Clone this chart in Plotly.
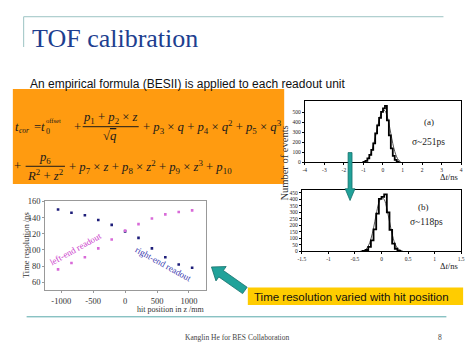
import plotly.graph_objects as go

# ---------------- data ----------------
hit_pos = [-1050, -840, -630, -420, -210, 0, 210, 420, 630, 840, 1050]
right_end_res = [150, 146, 143, 137, 131, 123, 115, 102, 91, 82, 78]
left_end_res = [76, 84, 91, 102, 113, 124, 132, 139, 144, 147, 149]
scatter_xticks = [-1000, -500, 0, 500, 1000]
scatter_yticks = [60, 80, 100, 120, 140, 160]

hist_a_centers = [-1.05, -0.95, -0.85, -0.75, -0.65, -0.55, -0.45, -0.35, -0.25, -0.15,
                  -0.05, 0.05, 0.15, 0.25, 0.35, 0.45, 0.55, 0.65, 0.75, 0.85]
hist_a_counts = [2, 5, 15, 40, 75, 125, 190, 290, 370, 445,
                 505, 540, 565, 420, 270, 140, 65, 25, 8, 2]
fit_a_x = [-1.0, -0.9, -0.8, -0.7, -0.6, -0.5, -0.4, -0.3, -0.2, -0.1,
           0.0, 0.1, 0.2, 0.3, 0.4, 0.5, 0.6, 0.7, 0.8, 0.9]
fit_a_y = [3, 10, 25, 55, 100, 165, 245, 335, 420, 485,
           520, 515, 470, 390, 290, 190, 110, 55, 22, 8]
hist_a_xticks = [-4, -3, -2, -1, 0, 1, 2, 3, 4]
hist_a_yticks = [0, 100, 200, 300, 400, 500]

hist_b_centers = [-0.375, -0.325, -0.275, -0.225, -0.175, -0.125, -0.075, -0.025,
                  0.025, 0.075, 0.125, 0.175, 0.225, 0.275, 0.325, 0.375]
hist_b_counts = [1, 3, 10, 35, 85, 170, 290, 405, 420, 440, 300, 165, 60, 20, 5, 1]
fit_b_x = [-0.4, -0.35, -0.3, -0.25, -0.2, -0.15, -0.1, -0.05, 0.0,
           0.05, 0.1, 0.15, 0.2, 0.25, 0.3, 0.35, 0.4]
fit_b_y = [1, 4, 14, 40, 95, 180, 285, 375, 415, 400, 330, 230, 135, 62, 24, 7, 2]
hist_b_xticks = [-1.5, -1, -0.5, 0, 0.5, 1, 1.5]
hist_b_yticks = [0, 50, 100, 150, 200, 250, 300, 350, 400, 450]

W, H = 474, 355


def px(x):
    return x / W


def py(y):
    return 1 - y / H


SERIF = "Liberation Serif, Times New Roman, serif"
SANS = "Liberation Sans, Arial, sans-serif"

fig = go.Figure()

# scatter: time resolution vs hit position
fig.add_trace(go.Scatter(x=hit_pos, y=right_end_res, mode="markers",
                         marker=dict(symbol="square", size=2.6, color="#1e1e7a"),
                         xaxis="x", yaxis="y", showlegend=False))
fig.add_trace(go.Scatter(x=hit_pos, y=left_end_res, mode="markers",
                         marker=dict(symbol="square", size=2.6, color="#d86ad8"),
                         xaxis="x", yaxis="y", showlegend=False))

# histogram (a)
fig.add_trace(go.Scatter(x=fit_a_x, y=fit_a_y, mode="lines", line=dict(color="#555", width=1, shape="spline"),
                         xaxis="x2", yaxis="y2", showlegend=False))
fig.add_trace(go.Scatter(x=hist_a_centers, y=hist_a_counts, mode="lines",
                         line=dict(color="black", width=1.8, shape="hvh"),
                         xaxis="x2", yaxis="y2", showlegend=False))
# histogram (b)
fig.add_trace(go.Scatter(x=fit_b_x, y=fit_b_y, mode="lines", line=dict(color="#555", width=1, shape="spline"),
                         xaxis="x3", yaxis="y3", showlegend=False))
fig.add_trace(go.Scatter(x=hist_b_centers, y=hist_b_counts, mode="lines",
                         line=dict(color="black", width=1.8, shape="hvh"),
                         xaxis="x3", yaxis="y3", showlegend=False))

grey_axis = dict(showline=True, linecolor="#999", linewidth=1, mirror=True, showgrid=False,
                 zeroline=False, ticks="outside", ticklen=2, tickcolor="#999",
                 tickfont=dict(family=SERIF, size=8.5, color="#333"))
black_axis = dict(showline=True, linecolor="black", linewidth=1, mirror=True, showgrid=False,
                  zeroline=False, ticks="outside", ticklen=2, tickcolor="black",
                  tickfont=dict(family=SERIF, size=5.5, color="#222"))

fig.update_layout(
    width=W, height=H, margin=dict(l=0, r=0, t=0, b=0),
    paper_bgcolor="white", plot_bgcolor="white",
    xaxis=dict(domain=[px(42), px(205)], anchor="y", range=[-1250, 1260],
               tickvals=scatter_xticks, ticktext=[str(v) for v in scatter_xticks], **grey_axis),
    yaxis=dict(domain=[py(292), py(201)], anchor="x", range=[50, 160],
               tickvals=scatter_yticks, ticktext=[str(v) for v in scatter_yticks], **grey_axis),
    xaxis2=dict(domain=[px(306), px(465)], anchor="y2", range=[-4, 4],
                tickvals=hist_a_xticks, ticktext=[str(v) for v in hist_a_xticks], **black_axis),
    yaxis2=dict(domain=[py(161), py(98)], anchor="x2", range=[0, 615],
                tickvals=hist_a_yticks, ticktext=[str(v) for v in hist_a_yticks], **black_axis),
    xaxis3=dict(domain=[px(303), px(465)], anchor="y3", range=[-1.5, 1.5],
                tickvals=hist_b_xticks, ticktext=[str(v) for v in hist_b_xticks], **black_axis),
    yaxis3=dict(domain=[py(252), py(189)], anchor="x3", range=[0, 475],
                tickvals=hist_b_yticks, ticktext=[str(v) for v in hist_b_yticks], **black_axis),
)

shapes = []
# top decorative rules
shapes.append(dict(type="line", xref="paper", yref="paper", x0=px(20), x1=px(447), y0=py(12), y1=py(12),
                   line=dict(color="#9cc3c3", width=1)))
shapes.append(dict(type="line", xref="paper", yref="paper", x0=px(20), x1=px(20), y0=py(12), y1=py(43),
                   line=dict(color="#9cc3c3", width=1)))
# bottom rule
shapes.append(dict(type="line", xref="paper", yref="paper", x0=px(23), x1=px(450), y0=py(319), y1=py(319),
                   line=dict(color="#58a9aa", width=1)))
# orange formula box
shapes.append(dict(type="rect", xref="paper", yref="paper", x0=px(9), x1=px(285), y0=py(183), y1=py(86),
                   fillcolor="#ff9b10", line=dict(width=0), layer="below"))
# yellow box
shapes.append(dict(type="rect", xref="paper", yref="paper", x0=px(248), x1=px(467), y0=py(307), y1=py(289),
                   fillcolor="#ffcc00", line=dict(width=0), layer="below"))
# fraction bars
for (xa, xb, yy) in [(80, 137, 124.5), (22, 62, 165)]:
    shapes.append(dict(type="line", xref="paper", yref="paper", x0=px(xa), x1=px(xb), y0=py(yy), y1=py(yy),
                       line=dict(color="#1a1a1a", width=1)))


def poly(points):
    d = "M " + " L ".join(f"{px(x):.5f},{py(y):.5f}" for x, y in points) + " Z"
    return d


TEAL = "#21a29a"
TEAL_EDGE = "#17706b"
# vertical arrow between histograms
shapes.append(dict(type="path", xref="paper", yref="paper",
                   path=poly([(350, 151), (354, 151), (354, 188), (357, 188), (352, 200), (347, 188), (350, 188)]),
                   fillcolor=TEAL, line=dict(color=TEAL_EDGE, width=0.8)))
# diagonal arrow toward scatter
tail = (245.0, 292.0)
tip = (211.0, 268.0)
dx, dy = tip[0] - tail[0], tip[1] - tail[1]
L = (dx * dx + dy * dy) ** 0.5
ux, uy = dx / L, dy / L
nx, ny = -uy, ux
base = (tip[0] - 12 * ux, tip[1] - 12 * uy)
pts = [(tail[0] + 4 * nx, tail[1] + 4 * ny), (base[0] + 4 * nx, base[1] + 4 * ny),
       (base[0] + 9 * nx, base[1] + 9 * ny), tip,
       (base[0] - 9 * nx, base[1] - 9 * ny), (base[0] - 4 * nx, base[1] - 4 * ny),
       (tail[0] - 4 * nx, tail[1] - 4 * ny)]
shapes.append(dict(type="path", xref="paper", yref="paper", path=poly(pts),
                   fillcolor=TEAL, line=dict(color=TEAL_EDGE, width=0.8)))
fig.update_layout(shapes=shapes)

anns = []


def ann(text, x, y, size, family=SERIF, color="#1a1a1a", xanchor="left", yanchor="middle", angle=0):
    anns.append(dict(text=text, x=px(x), y=py(y), xref="paper", yref="paper", showarrow=False,
                     xanchor=xanchor, yanchor=yanchor, textangle=angle,
                     font=dict(family=family, size=size, color=color)))


# title and subtitle
ann("TOF calibration", 26, 34, 26, color="#203e8f")
ann("An empirical formula (BESII) is applied to each readout unit", 24, 81, 12, family=SANS, color="#111")

# formula line 1
F = 12.7
ann("<i>t</i>", 9, 125, F)
ann("<i>cor</i>", 13, 128, 7.5)
ann("=", 28, 125, F)
ann("<i>t</i>", 36, 125, F)
ann("offset", 41, 118, 6.5)
ann("0", 41, 129, 8)
ann("+", 69, 125, F)
ann("<i>p</i><sub>1</sub> + <i>p</i><sub>2</sub> × <i>z</i>", 108, 116, F, xanchor="center")
ann("√<span style='text-decoration:overline'><i>q</i></span>", 108, 134, F, xanchor="center")
ann("+ <i>p</i><sub>3</sub> × <i>q</i> + <i>p</i><sub>4</sub> × <i>q</i><sup>2</sup> + "
    "<i>p</i><sub>5</sub> × <i>q</i><sup>3</sup>", 139, 125, F)
# formula line 2
ann("+", 8, 165, F)
ann("<i>p</i><sub>6</sub>", 42, 157, F, xanchor="center")
ann("<i>R</i><sup>2</sup> + <i>z</i><sup>2</sup>", 42, 174, F, xanchor="center")
ann("+ <i>p</i><sub>7</sub> × <i>z</i> + <i>p</i><sub>8</sub> × <i>z</i><sup>2</sup> + "
    "<i>p</i><sub>9</sub> × <i>z</i><sup>3</sup> + <i>p</i><sub>10</sub>", 64, 166, F)

# scatter texts
ann("Time resolution /ps", 23, 246, 8.5, color="#333", xanchor="center", angle=-90)
ann("hit position in z /mm", 205, 311.5, 8, color="#333", xanchor="right")
ann("left-end readout", 73, 250, 9, color="#cc44cc", xanchor="center", angle=-29)
ann("right-end readout", 162, 265, 9, color="#3b3bb0", xanchor="center", angle=29)

# histogram texts
ann("Number of events", 285, 162, 10.5, color="#333", xanchor="center", angle=-90)
ann("(a)", 432, 120, 9, xanchor="center")
ann("σ~251ps", 432, 140, 9.5, xanchor="center")
ann("Δ<i>t</i>/ns", 453, 176, 8.5, xanchor="center")
ann("(b)", 427, 207, 9, xanchor="center")
ann("σ~118ps", 430, 222, 9.5, xanchor="center")
ann("Δ<i>t</i>/ns", 453, 267, 8.5, xanchor="center")

# yellow box text
ann("Time resolution varied with hit position", 252, 298.5, 11.5, family=SANS, color="#111")

# footer
ann("Kanglin He for BES Collaboration", 237, 340, 7.5, color="#444", xanchor="center")
ann("8", 443, 340, 7.5, color="#444", xanchor="center")

fig.update_layout(annotations=anns)
fig.write_html("out.html")
